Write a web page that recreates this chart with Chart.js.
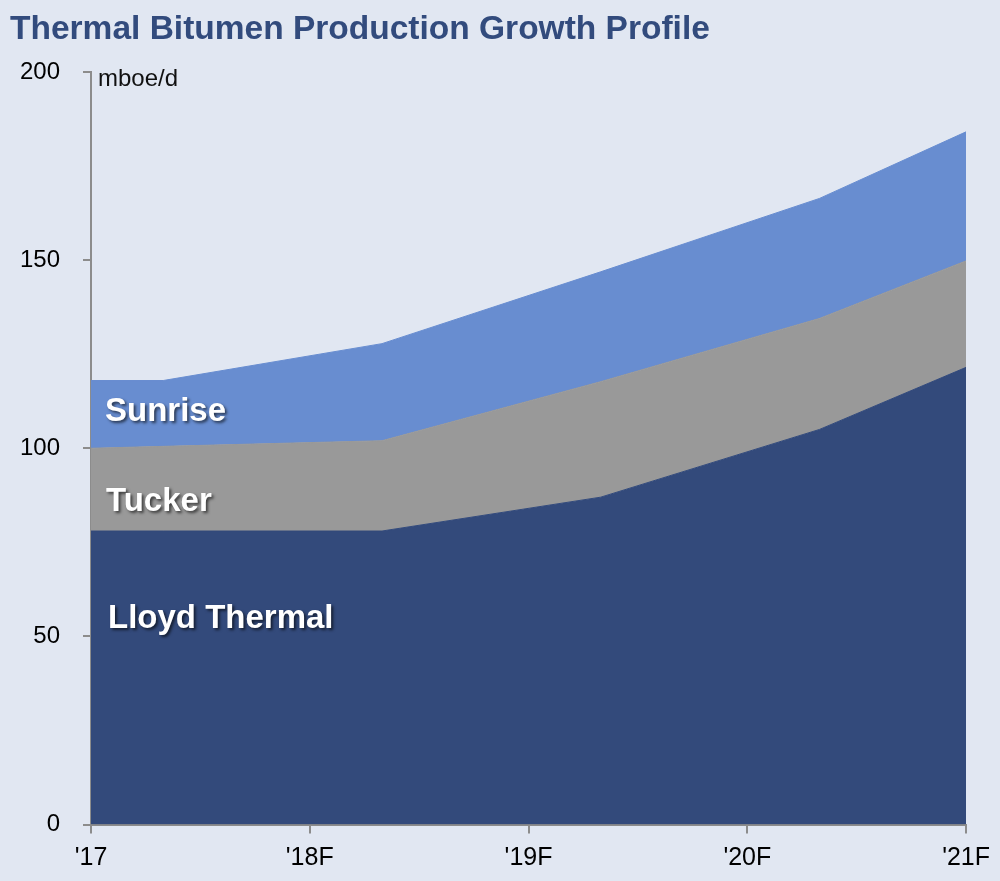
<!DOCTYPE html>
<html><head><meta charset="utf-8">
<script src="https://cdn.jsdelivr.net/npm/chart.js@4.4.1/dist/chart.umd.min.js"></script>
<style>
html,body{margin:0;padding:0;background:#E1E7F2;}
#wrap{position:relative;width:1000px;height:881px;}
canvas{display:block;}
</style></head><body>
<div id="wrap"><canvas id="c" width="1000" height="881"></canvas></div>
<script>
const chartTitle = 'Thermal Bitumen Production Growth Profile';
const unitLabel = 'mboe/d';
const xTickLabels = ["'17", "'18F", "'19F", "'20F", "'21F"];
const xPositions = [0, 0.33, 1.33, 2.33, 3.33, 4];
const lloydThermal = [78, 78, 78, 87, 105, 121.5];
const tucker = [22, 22.5, 24, 30.7, 29.5, 28.3];
const sunrise = [18, 17.5, 25.8, 29.2, 31.9, 34.3];
const seriesNames = ['Lloyd Thermal', 'Tucker', 'Sunrise'];
const yTicks = [0, 50, 100, 150, 200];

const FONT = '"Liberation Sans", Arial, Helvetica, sans-serif';
const pts = arr => arr.map((v, i) => ({x: xPositions[i], y: v}));
const colors = ['#334A7B', '#999999', '#688DD0'];

const overlay = {
  id: 'overlay',
  afterDraw(chart) {
    const ctx = chart.ctx, a = chart.chartArea;
    ctx.save();
    ctx.fillStyle = '#324B7D';
    ctx.font = 'bold 33.5px ' + FONT;
    ctx.textBaseline = 'alphabetic';
    ctx.textAlign = 'left';
    ctx.fillText(chartTitle, 10, 39);
    ctx.fillStyle = '#111';
    ctx.font = '24px ' + FONT;
    ctx.fillText(unitLabel, a.left + 7, 86);
    // series labels
    ctx.font = 'bold 33px ' + FONT;
    ctx.fillStyle = '#ffffff';
    ctx.shadowColor = 'rgba(0,0,0,0.6)';
    ctx.shadowOffsetX = 2;
    ctx.shadowOffsetY = 2;
    ctx.shadowBlur = 3;
    const spots = [[a.left + 17, 628], [a.left + 15, 511], [a.left + 14, 421]];
    seriesNames.forEach((n, i) => ctx.fillText(n, spots[i][0], spots[i][1]));
    ctx.restore();
  }
};

new Chart(document.getElementById('c'), {
  type: 'line',
  data: {
    datasets: [
      {label: seriesNames[0], data: pts(lloydThermal), backgroundColor: colors[0], borderColor: colors[0], borderWidth: 1, fill: 'origin', pointRadius: 0, tension: 0},
      {label: seriesNames[1], data: pts(tucker), backgroundColor: colors[1], borderColor: colors[1], borderWidth: 1, fill: '-1', pointRadius: 0, tension: 0},
      {label: seriesNames[2], data: pts(sunrise), backgroundColor: colors[2], borderColor: colors[2], borderWidth: 1, fill: '-1', pointRadius: 0, tension: 0}
    ]
  },
  options: {
    responsive: false,
    animation: false,
    devicePixelRatio: 1,
    layout: {padding: {top: 72, right: 33.5, left: 0, bottom: 0}},
    plugins: {legend: {display: false}, tooltip: {enabled: false}, title: {display: false}},
    scales: {
      x: {
        type: 'linear', min: 0, max: 4,
        afterBuildTicks: s => { s.ticks = xTickLabels.map((_, i) => ({value: i})); },
        ticks: {callback: v => xTickLabels[Math.round(v)], color: '#000', font: {family: FONT, size: 25}, padding: 10, maxRotation: 0, autoSkip: false},
        grid: {drawOnChartArea: false, drawTicks: true, tickLength: 9, color: '#8c8c8c', lineWidth: 2},
        border: {display: true, color: '#8c8c8c', width: 2},
        afterFit: s => { s.height = 56.5; }
      },
      y: {
        stacked: true, min: 0, max: 200,
        afterBuildTicks: s => { s.ticks = yTicks.map(v => ({value: v})); },
        ticks: {color: '#000', font: {family: FONT, size: 24}, padding: 23},
        grid: {drawOnChartArea: false, drawTicks: true, tickLength: 8, color: '#8c8c8c', lineWidth: 2},
        border: {display: true, color: '#8c8c8c', width: 2},
        afterFit: s => { s.width = 91; }
      }
    }
  },
  plugins: [overlay]
});
</script>
</body></html>
